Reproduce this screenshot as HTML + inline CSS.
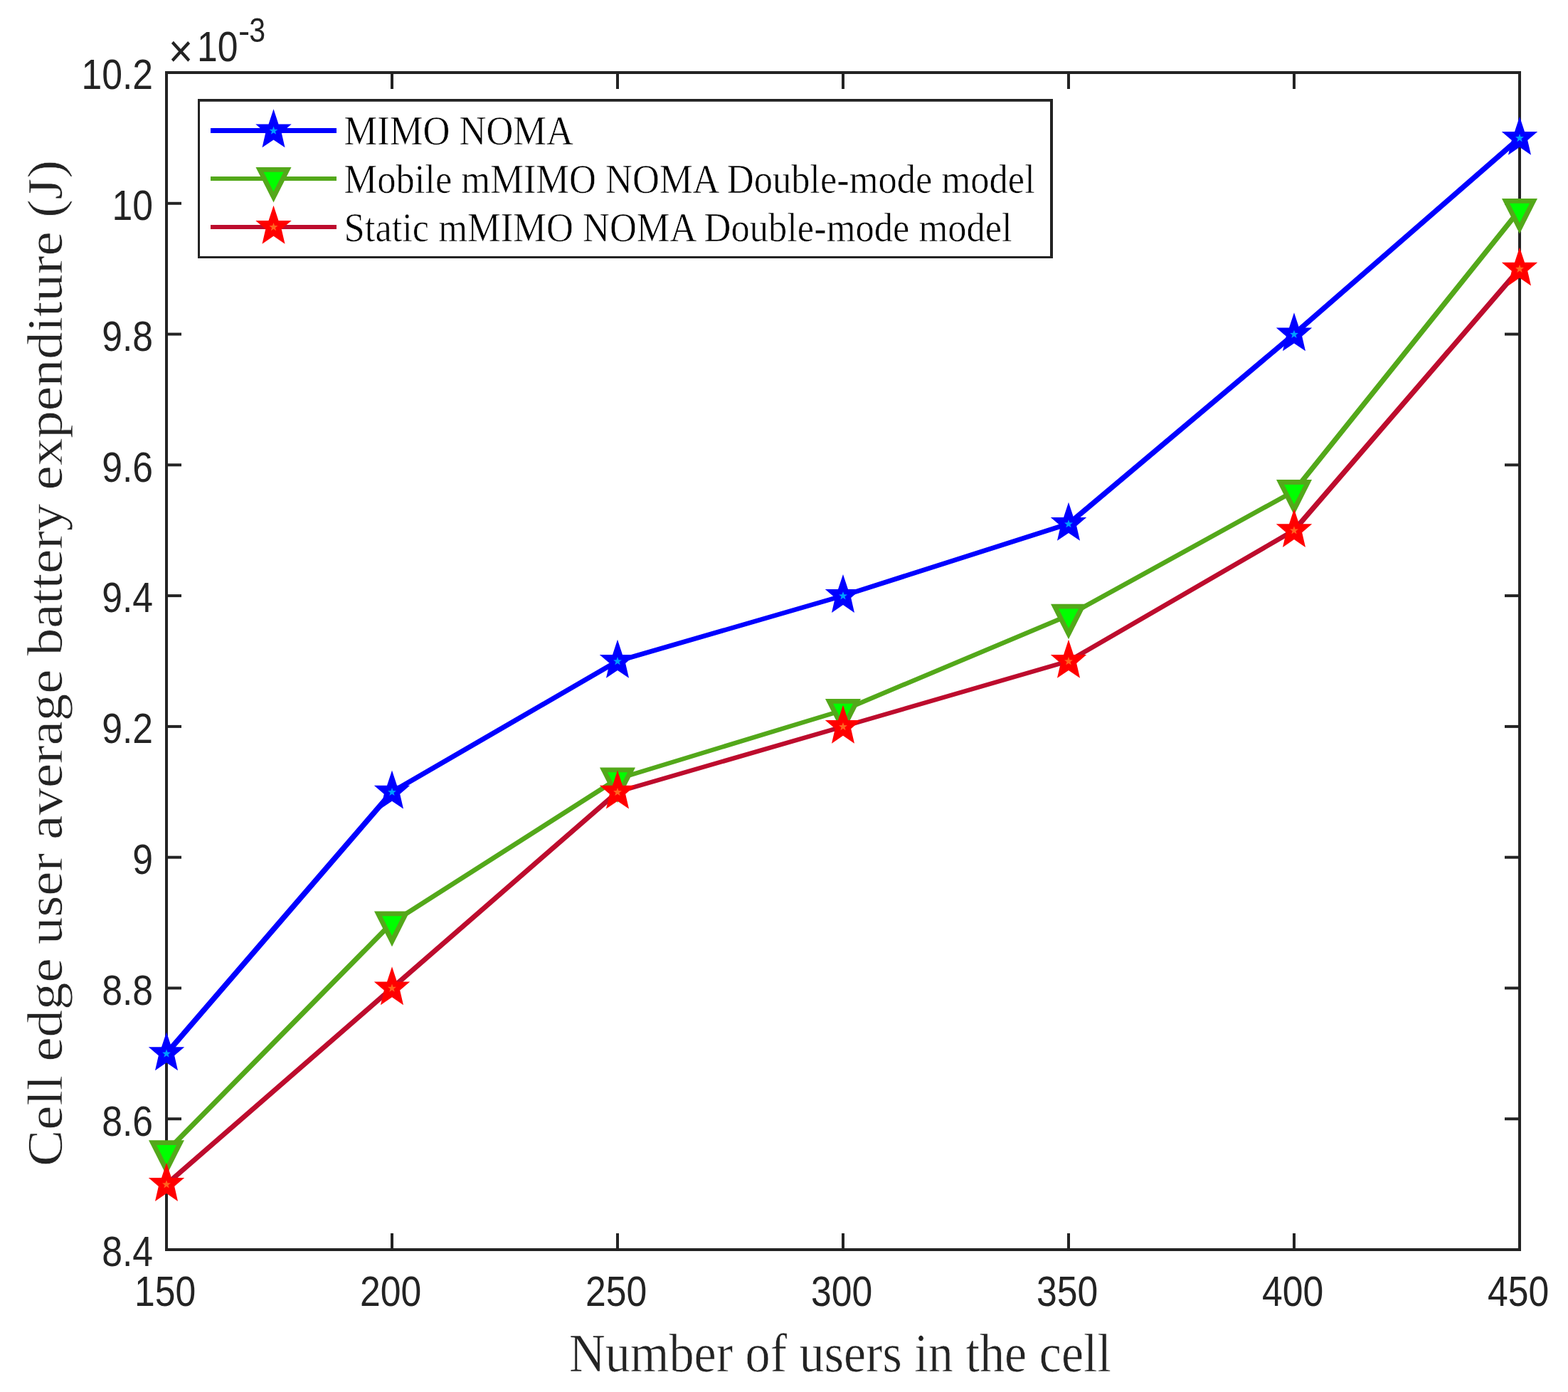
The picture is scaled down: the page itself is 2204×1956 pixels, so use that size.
<!DOCTYPE html>
<html><head><meta charset="utf-8"><title>Cell edge user average battery expenditure</title>
<style>
html,body{margin:0;padding:0;background:#fff;width:2204px;height:1956px;overflow:hidden}
svg{display:block}
.tk{font-family:"Liberation Sans",Arial,Helvetica,sans-serif;fill:#232323}
.tm{font-family:"Liberation Serif","Times New Roman",Times,serif;stroke:#fff;stroke-width:0.6px;paint-order:fill}
</style></head><body>
<svg width="2204" height="1956" viewBox="0 0 2204 1956">
<rect width="2204" height="1956" fill="#fff"/>
<defs>
<polygon id="so" points="0.00,-30.20 7.00,-9.00 25.20,-9.00 11.20,3.00 16.00,23.80 0.00,12.90 -16.00,23.80 -11.20,3.00 -25.20,-9.00 -7.00,-9.00"/>
<polygon id="si" points="0.00,-5.90 1.53,-1.80 5.90,-1.62 2.47,1.10 3.64,5.32 0.00,2.90 -3.64,5.32 -2.47,1.10 -5.90,-1.62 -1.53,-1.80"/>
<polygon id="to" points="-25.00,-16.00 25.00,-16.00 0.00,33.60"/>
<polygon id="ti" points="-14.00,-9.20 14.00,-9.20 0.00,18.40"/>
</defs>

<g stroke="#232323" stroke-width="4" fill="none" stroke-linecap="square">
<rect x="234.0" y="102.0" width="1902.0" height="1654.0"/>
</g>
<g stroke="#232323" stroke-width="4" fill="none">
<line x1="551.00" y1="102.0" x2="551.00" y2="125.0"/>
<line x1="551.00" y1="1756.0" x2="551.00" y2="1733.0"/>
<line x1="868.00" y1="102.0" x2="868.00" y2="125.0"/>
<line x1="868.00" y1="1756.0" x2="868.00" y2="1733.0"/>
<line x1="1185.00" y1="102.0" x2="1185.00" y2="125.0"/>
<line x1="1185.00" y1="1756.0" x2="1185.00" y2="1733.0"/>
<line x1="1502.00" y1="102.0" x2="1502.00" y2="125.0"/>
<line x1="1502.00" y1="1756.0" x2="1502.00" y2="1733.0"/>
<line x1="1819.00" y1="102.0" x2="1819.00" y2="125.0"/>
<line x1="1819.00" y1="1756.0" x2="1819.00" y2="1733.0"/>
<line x1="234.0" y1="1572.22" x2="255.0" y2="1572.22"/>
<line x1="2136.0" y1="1572.22" x2="2115.0" y2="1572.22"/>
<line x1="234.0" y1="1388.44" x2="255.0" y2="1388.44"/>
<line x1="2136.0" y1="1388.44" x2="2115.0" y2="1388.44"/>
<line x1="234.0" y1="1204.67" x2="255.0" y2="1204.67"/>
<line x1="2136.0" y1="1204.67" x2="2115.0" y2="1204.67"/>
<line x1="234.0" y1="1020.89" x2="255.0" y2="1020.89"/>
<line x1="2136.0" y1="1020.89" x2="2115.0" y2="1020.89"/>
<line x1="234.0" y1="837.11" x2="255.0" y2="837.11"/>
<line x1="2136.0" y1="837.11" x2="2115.0" y2="837.11"/>
<line x1="234.0" y1="653.33" x2="255.0" y2="653.33"/>
<line x1="2136.0" y1="653.33" x2="2115.0" y2="653.33"/>
<line x1="234.0" y1="469.56" x2="255.0" y2="469.56"/>
<line x1="2136.0" y1="469.56" x2="2115.0" y2="469.56"/>
<line x1="234.0" y1="285.78" x2="255.0" y2="285.78"/>
<line x1="2136.0" y1="285.78" x2="2115.0" y2="285.78"/>
</g>
<g class="tk">
<text transform="translate(232.20,1835) scale(1,1.147)" font-size="51.7" text-anchor="middle">150</text>
<text transform="translate(549.20,1835) scale(1,1.147)" font-size="51.7" text-anchor="middle">200</text>
<text transform="translate(866.20,1835) scale(1,1.147)" font-size="51.7" text-anchor="middle">250</text>
<text transform="translate(1183.20,1835) scale(1,1.147)" font-size="51.7" text-anchor="middle">300</text>
<text transform="translate(1500.20,1835) scale(1,1.147)" font-size="51.7" text-anchor="middle">350</text>
<text transform="translate(1817.20,1835) scale(1,1.147)" font-size="51.7" text-anchor="middle">400</text>
<text transform="translate(2134.20,1835) scale(1,1.147)" font-size="51.7" text-anchor="middle">450</text>
<text transform="translate(215.0,1779.30) scale(1,1.147)" font-size="51.7" text-anchor="end">8.4</text>
<text transform="translate(215.0,1595.52) scale(1,1.147)" font-size="51.7" text-anchor="end">8.6</text>
<text transform="translate(215.0,1411.74) scale(1,1.147)" font-size="51.7" text-anchor="end">8.8</text>
<text transform="translate(215.0,1227.97) scale(1,1.147)" font-size="51.7" text-anchor="end">9</text>
<text transform="translate(215.0,1044.19) scale(1,1.147)" font-size="51.7" text-anchor="end">9.2</text>
<text transform="translate(215.0,860.41) scale(1,1.147)" font-size="51.7" text-anchor="end">9.4</text>
<text transform="translate(215.0,676.63) scale(1,1.147)" font-size="51.7" text-anchor="end">9.6</text>
<text transform="translate(215.0,492.86) scale(1,1.147)" font-size="51.7" text-anchor="end">9.8</text>
<text transform="translate(215.0,309.08) scale(1,1.147)" font-size="51.7" text-anchor="end">10</text>
<text transform="translate(215.0,125.30) scale(1,1.147)" font-size="51.7" text-anchor="end">10.2</text>
<text transform="translate(236.7,94.3) scale(1,1.11)" font-size="59.2">×</text>
<text transform="translate(276.9,86) scale(1,1.147)" font-size="51.7">10</text>
<text transform="translate(335.0,60.1) scale(1.19,1.16)" font-size="41">-</text>
<text transform="translate(350.2,59.3) scale(1,1.16)" font-size="41">3</text>
</g>
<g stroke="#0000ff" stroke-linecap="round"><line x1="234.00" y1="1480.33" x2="551.00" y2="1112.78" stroke-width="7.76"/><line x1="551.00" y1="1112.78" x2="868.00" y2="929.00" stroke-width="7.05"/><line x1="868.00" y1="929.00" x2="1185.00" y2="837.11" stroke-width="6.67"/><line x1="1185.00" y1="837.11" x2="1502.00" y2="736.03" stroke-width="6.70"/><line x1="1502.00" y1="736.03" x2="1819.00" y2="469.56" stroke-width="7.41"/><line x1="1819.00" y1="469.56" x2="2136.00" y2="193.89" stroke-width="7.45"/></g>
<use href="#so" x="234.00" y="1480.33" fill="#0000ff"/>
<use href="#si" x="234.00" y="1480.33" fill="#00a0ff"/>
<use href="#so" x="551.00" y="1112.78" fill="#0000ff"/>
<use href="#si" x="551.00" y="1112.78" fill="#00a0ff"/>
<use href="#so" x="868.00" y="929.00" fill="#0000ff"/>
<use href="#si" x="868.00" y="929.00" fill="#00a0ff"/>
<use href="#so" x="1185.00" y="837.11" fill="#0000ff"/>
<use href="#si" x="1185.00" y="837.11" fill="#00a0ff"/>
<use href="#so" x="1502.00" y="736.03" fill="#0000ff"/>
<use href="#si" x="1502.00" y="736.03" fill="#00a0ff"/>
<use href="#so" x="1819.00" y="469.56" fill="#0000ff"/>
<use href="#si" x="1819.00" y="469.56" fill="#00a0ff"/>
<use href="#so" x="2136.00" y="193.89" fill="#0000ff"/>
<use href="#si" x="2136.00" y="193.89" fill="#00a0ff"/>
<g stroke="#53a81a" stroke-linecap="round"><line x1="234.00" y1="1618.17" x2="551.00" y2="1296.56" stroke-width="7.09"/><line x1="551.00" y1="1296.56" x2="868.00" y2="1094.40" stroke-width="6.68"/><line x1="868.00" y1="1094.40" x2="1185.00" y2="997.92" stroke-width="6.31"/><line x1="1185.00" y1="997.92" x2="1502.00" y2="864.68" stroke-width="6.43"/><line x1="1502.00" y1="864.68" x2="1819.00" y2="690.09" stroke-width="6.58"/><line x1="1819.00" y1="690.09" x2="2136.00" y2="294.97" stroke-width="7.28"/></g>
<use href="#to" x="234.00" y="1618.17" fill="#53a81a"/>
<use href="#ti" x="234.00" y="1618.17" fill="#00ff00"/>
<use href="#to" x="551.00" y="1296.56" fill="#53a81a"/>
<use href="#ti" x="551.00" y="1296.56" fill="#00ff00"/>
<use href="#to" x="868.00" y="1094.40" fill="#53a81a"/>
<use href="#ti" x="868.00" y="1094.40" fill="#00ff00"/>
<use href="#to" x="1185.00" y="997.92" fill="#53a81a"/>
<use href="#ti" x="1185.00" y="997.92" fill="#00ff00"/>
<use href="#to" x="1502.00" y="864.68" fill="#53a81a"/>
<use href="#ti" x="1502.00" y="864.68" fill="#00ff00"/>
<use href="#to" x="1819.00" y="690.09" fill="#53a81a"/>
<use href="#ti" x="1819.00" y="690.09" fill="#00ff00"/>
<use href="#to" x="2136.00" y="294.97" fill="#53a81a"/>
<use href="#ti" x="2136.00" y="294.97" fill="#00ff00"/>
<g stroke="#bd0c2d" stroke-linecap="round"><line x1="234.00" y1="1664.11" x2="551.00" y2="1388.44" stroke-width="7.00"/><line x1="551.00" y1="1388.44" x2="868.00" y2="1112.78" stroke-width="7.00"/><line x1="868.00" y1="1112.78" x2="1185.00" y2="1020.89" stroke-width="6.26"/><line x1="1185.00" y1="1020.89" x2="1502.00" y2="929.00" stroke-width="6.26"/><line x1="1502.00" y1="929.00" x2="1819.00" y2="745.22" stroke-width="6.63"/><line x1="1819.00" y1="745.22" x2="2136.00" y2="377.67" stroke-width="7.30"/></g>
<use href="#so" x="234.00" y="1664.11" fill="#ff0000"/>
<use href="#si" x="234.00" y="1664.11" fill="#ff6620"/>
<use href="#so" x="551.00" y="1388.44" fill="#ff0000"/>
<use href="#si" x="551.00" y="1388.44" fill="#ff6620"/>
<use href="#so" x="868.00" y="1112.78" fill="#ff0000"/>
<use href="#si" x="868.00" y="1112.78" fill="#ff6620"/>
<use href="#so" x="1185.00" y="1020.89" fill="#ff0000"/>
<use href="#si" x="1185.00" y="1020.89" fill="#ff6620"/>
<use href="#so" x="1502.00" y="929.00" fill="#ff0000"/>
<use href="#si" x="1502.00" y="929.00" fill="#ff6620"/>
<use href="#so" x="1819.00" y="745.22" fill="#ff0000"/>
<use href="#si" x="1819.00" y="745.22" fill="#ff6620"/>
<use href="#so" x="2136.00" y="377.67" fill="#ff0000"/>
<use href="#si" x="2136.00" y="377.67" fill="#ff6620"/>
<rect x="278" y="139" width="1202" height="224" fill="#fff"/>
<g fill="#232323"><rect x="278" y="139" width="3" height="224"/><rect x="1476" y="139" width="4" height="224"/><rect x="278" y="139" width="1202" height="3.8"/><rect x="278" y="360" width="1202" height="3"/></g>
<line x1="296" y1="183.5" x2="473" y2="183.5" stroke="#0000ff" stroke-width="7.1"/>
<use href="#so" x="384.5" y="183.5" fill="#0000ff"/>
<use href="#si" x="384.5" y="183.5" fill="#00a0ff"/>
<line x1="296" y1="250.9" x2="473" y2="250.9" stroke="#53a81a" stroke-width="6.0"/>
<use href="#to" x="384.5" y="250.9" fill="#53a81a"/>
<use href="#ti" x="384.5" y="250.9" fill="#00ff00"/>
<line x1="296" y1="318.9" x2="473" y2="318.9" stroke="#bd0c2d" stroke-width="6.0"/>
<use href="#so" x="384.5" y="318.9" fill="#ff0000"/>
<use href="#si" x="384.5" y="318.9" fill="#ff6620"/>
<text class="tm" transform="translate(483.6,202.8) scale(1,1.095)" font-size="52.5" fill="#000">MIMO NOMA</text>
<text class="tm" transform="translate(483.6,270.7) scale(1,1.095)" font-size="52.5" fill="#000">Mobile mMIMO NOMA Double-mode model</text>
<text class="tm" transform="translate(483.6,338.7) scale(1,1.095)" font-size="52.5" fill="#000">Static mMIMO NOMA Double-mode model</text>
<text class="tm" transform="translate(800,1926.8) scale(1,1.097)" font-size="70.2" fill="#232323">Number of users in the cell</text>
<text class="tm" transform="translate(87,1639) rotate(-90) scale(1.0946,1)" font-size="70.3" fill="#232323">Cell edge user average battery expenditure (J)</text>
</svg>
</body></html>
